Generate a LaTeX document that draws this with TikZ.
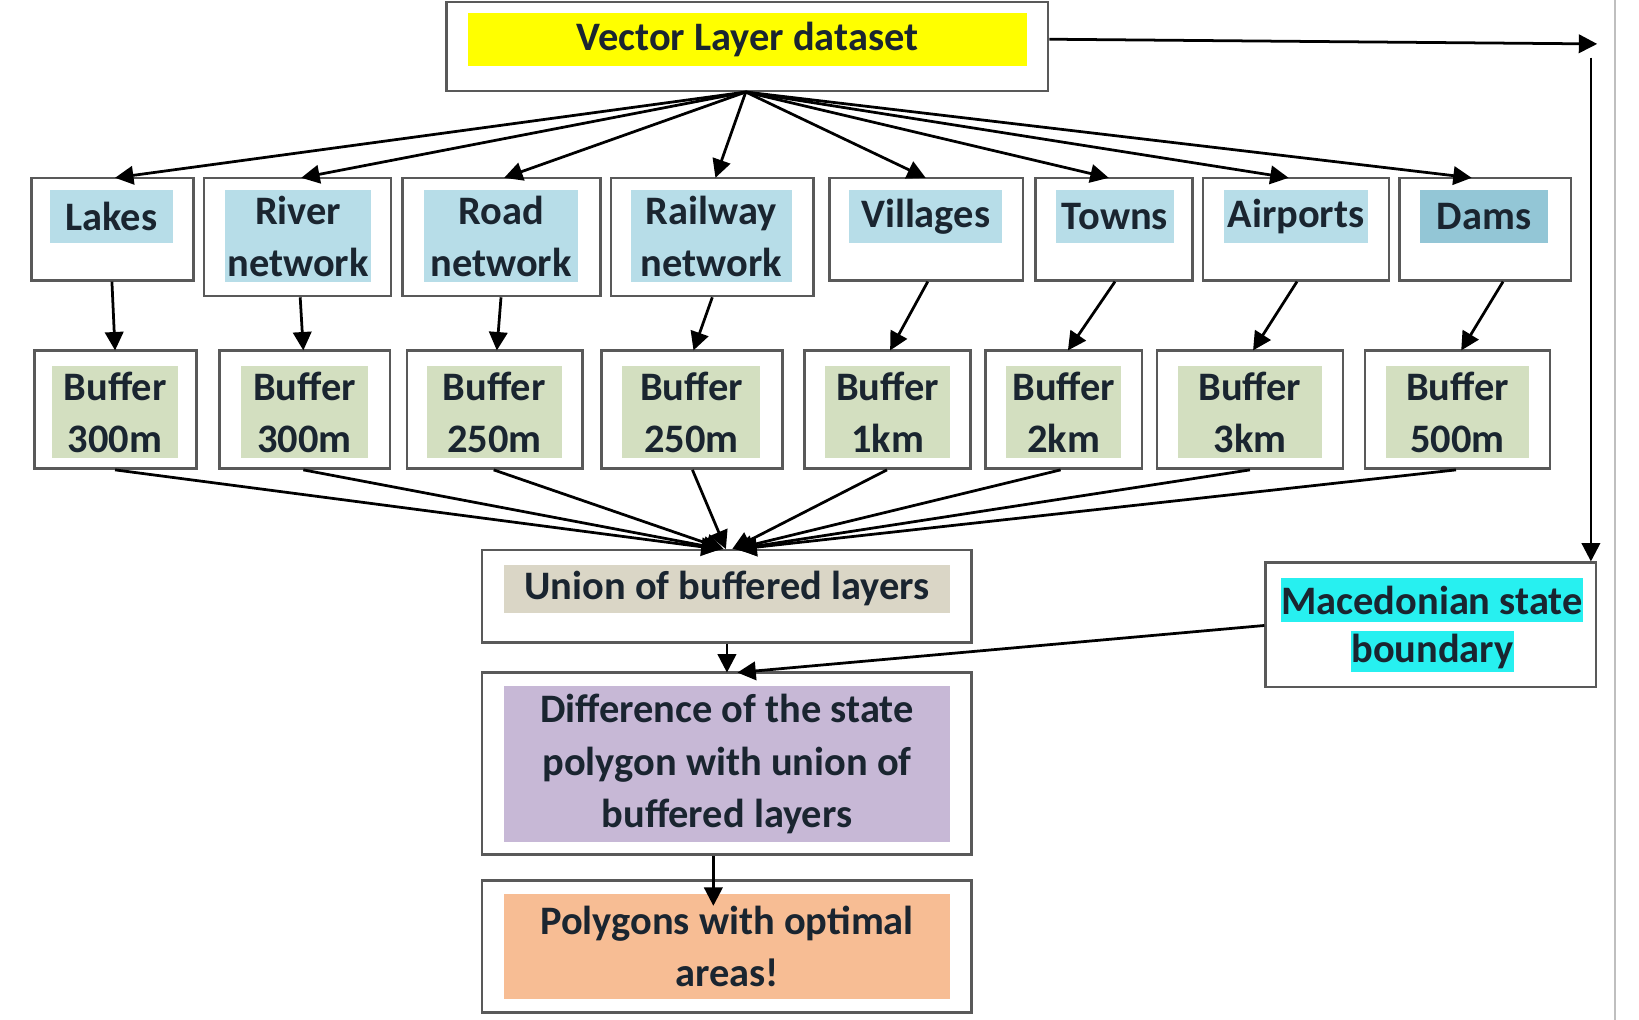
\documentclass[tikz,border=0pt]{standalone}
\usepackage{fontspec}
\setmainfont{Carlito}
\usetikzlibrary{arrows.meta}
\definecolor{txt}{HTML}{1A2530}
\definecolor{bl}{HTML}{B7DDE8}
\definecolor{dbl}{HTML}{93C6D6}
\definecolor{gr}{HTML}{D3DFC0}
\definecolor{un}{HTML}{DAD6C6}
\definecolor{lav}{HTML}{C7B8D6}
\definecolor{pe}{HTML}{F7BD94}
\definecolor{yel}{HTML}{FFFF00}
\definecolor{cy}{HTML}{27F0F0}
\tikzset{
 box/.style={draw=black!65,line width=0.7pt,inner sep=0pt},
 hl/.style={inner sep=0pt,text=txt,font=\bfseries\fontsize{11}{14.2}\selectfont,align=center},
 ar/.style={line width=0.75pt,-{Triangle[length=5pt,width=5pt]}}
}
\newcommand{\bx}[5]{\node[box,minimum width={(#4-#2)*0.1mm},minimum height={(#5-#3)*0.1mm}] (#1) at ({(#2+#4)/2},{(#3+#5)/2}) {};}
\newcommand{\hlb}[7]{\node[hl,fill=#6,minimum width={(#4-#2)*0.1mm},minimum height={(#5-#3)*0.1mm}] (#1) at ({(#2+#4)/2},{(#3+#5)/2}) {#7};}
\begin{document}
\begin{tikzpicture}[x=0.1mm,y=-0.1mm]
\useasboundingbox[fill=white] (0,0) rectangle (1567,975);
\draw[black!25,line width=0.5pt] (1544,0) -- (1544,975);
\bx{v}{427}{2}{1002}{87}\hlb{vt}{447}{12}{982}{63}{yel}{Vector Layer dataset}
\bx{a1}{30}{170}{185}{268}\hlb{a1t}{48}{182}{165}{232}{bl}{Lakes}
\bx{a2}{195}{170}{374}{283}\hlb{a2t}{215}{182}{355}{270}{bl}{River\\network}
\bx{a3}{385}{170}{574}{283}\hlb{a3t}{405}{182}{553}{270}{bl}{Road\\network}
\bx{a4}{584}{170}{778}{283}\hlb{a4t}{603}{182}{757}{270}{bl}{Railway\\network}
\bx{a5}{793}{170}{978}{268}\hlb{a5t}{812}{182}{958}{232}{bl}{Villages}
\bx{a6}{990}{170}{1140}{268}\hlb{a6t}{1010}{182}{1122}{232}{bl}{Towns}
\bx{a7}{1150}{170}{1328}{268}\hlb{a7t}{1170}{182}{1308}{232}{bl}{Airports}
\bx{a8}{1338}{170}{1502}{268}\hlb{a8t}{1358}{182}{1480}{232}{dbl}{Dams}
\bx{b1}{33}{335}{188}{448}\hlb{b1t}{50}{350}{170}{438}{gr}{Buffer\\300m}
\bx{b2}{210}{335}{373}{448}\hlb{b2t}{230}{350}{352}{438}{gr}{Buffer\\300m}
\bx{b3}{389}{335}{557}{448}\hlb{b3t}{408}{350}{537}{438}{gr}{Buffer\\250m}
\bx{b4}{575}{335}{748}{448}\hlb{b4t}{595}{350}{727}{438}{gr}{Buffer\\250m}
\bx{b5}{769}{335}{928}{448}\hlb{b5t}{789}{350}{908}{438}{gr}{Buffer\\1km}
\bx{b6}{942}{335}{1092}{448}\hlb{b6t}{962}{350}{1072}{438}{gr}{Buffer\\2km}
\bx{b7}{1106}{335}{1284}{448}\hlb{b7t}{1126}{350}{1264}{438}{gr}{Buffer\\3km}
\bx{b8}{1305}{335}{1482}{448}\hlb{b8t}{1325}{350}{1462}{438}{gr}{Buffer\\500m}
\bx{u}{461}{526}{929}{614}\hlb{ut}{482}{540}{908}{586}{un}{Union of buffered layers}
\bx{m}{1210}{538}{1526}{657}
\hlb{m1}{1235}{553}{1503}{595}{cy}{Macedonian state}
\hlb{m2}{1298}{603}{1441}{642}{cy}{boundary}
\bx{d}{461}{643}{929}{817}\hlb{dt}{482}{656}{908}{805}{lav}{Difference of the state\\polygon with union of\\buffered layers}
\bx{p}{461}{842}{929}{968}\hlb{pt}{482}{855}{908}{955}{pe}{Polygons with optimal\\areas!}
\coordinate (c1) at (1527,42);
\coordinate (c2) at (1521,55);
\draw[ar] (v.east|-vt) -- (c1);
\draw[ar] (c2) -- (c2|-m.north);
\coordinate (vs) at (713,88);
\foreach \i/\x in {1/110,2/288,3/482,4/684,5/885,6/1060,7/1232,8/1407}
  \draw[ar] (vs) -- (\x,170);
\foreach \i/\xa/\xb in {1/107/110,2/287/290,3/479/475,4/681/663,5/887/851,6/1066/1021,7/1240/1198,8/1437/1397}
  \draw[ar] (a\i.south-|\xa,0) -- (\xb,335);
\foreach \i/\xa/\xt in {1/110/688,2/290/690,3/472/692,4/662/694,5/848/700,6/1014/702,7/1195/704,8/1392/706}
  \draw[ar] (b\i.south-|\xa,0) -- (\xt,525);
\draw[ar] (u.south-|695,0) -- (695,643);
\draw[ar] (m.west|-0,598) -- (705,643);
\draw[ar] (d.south-|682,0) -- (682,866);
\end{tikzpicture}
\end{document}
